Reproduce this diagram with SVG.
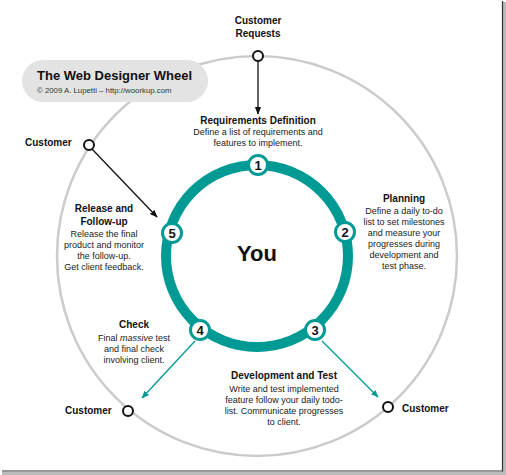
<svg xmlns="http://www.w3.org/2000/svg" width="506" height="475" viewBox="0 0 506 475">
<defs>
<style>
text{font-family:"Liberation Sans",Arial,sans-serif;fill:#111;}
.h{font-weight:bold;font-size:10px;text-anchor:middle;}
.b{font-size:9px;text-anchor:middle;fill:#222;}
.num{font-weight:bold;font-size:13px;text-anchor:middle;}
.step{fill:#fff;stroke:#009a95;stroke-width:3;}
.cust{fill:#fff;stroke:#111;stroke-width:2;}
.blk{stroke:#111;stroke-width:1.3;fill:none;}
.teal{stroke:#009a95;stroke-width:1.3;fill:none;}
</style>
<marker id="ab" viewBox="0 0 10 10" refX="9" refY="5" markerWidth="6" markerHeight="6" orient="auto"><path d="M0,1 L10,5 L0,9 z" fill="#111"/></marker>
<marker id="at" viewBox="0 0 10 10" refX="9" refY="5" markerWidth="6" markerHeight="6" orient="auto"><path d="M0,1 L10,5 L0,9 z" fill="#009a95"/></marker>
</defs>
<rect width="506" height="475" fill="#fff"/>
<!-- frame shadow -->
<g id="frame">
<rect x="503" y="2" width="3" height="472" fill="#bbb"/>
<rect x="2" y="472" width="504" height="3" fill="#bbb"/>
<line x1="502.5" y1="1" x2="502.5" y2="471.5" stroke="#333" stroke-width="1.2"/>
<line x1="2" y1="471" x2="503" y2="471" stroke="#333" stroke-width="1.2"/>
</g>
<g id="outer-ring"><circle cx="257" cy="256" r="200" fill="none" stroke="#cbcbcb" stroke-width="2.5"/></g>
<g id="title">
<rect x="22" y="60" width="186" height="42" rx="21" fill="#e3e3e3"/>
<text x="37" y="80" style="font-weight:bold;font-size:13px">The Web Designer Wheel</text>
<text x="37" y="93" style="font-size:7.8px;fill:#333">© 2009 A. Lupetti – http://woorkup.com</text>
</g>
<g id="connectors">
<line class="blk" x1="258" y1="61" x2="258" y2="114" marker-end="url(#ab)"/>
<line class="blk" x1="92" y1="149" x2="157" y2="217" marker-end="url(#ab)"/>
<line class="teal" x1="195" y1="341" x2="142" y2="398" marker-end="url(#at)"/>
<line class="teal" x1="322" y1="341" x2="378" y2="397" marker-end="url(#at)"/>
</g>
<g id="wheel"><circle cx="257" cy="256" r="91" fill="none" stroke="#009a95" stroke-width="10"/></g>
<g id="you"><text x="257" y="261" style="font-weight:bold;font-size:22px;text-anchor:middle">You</text></g>
<g id="step1"><circle class="step" cx="258" cy="165" r="9.5"/><text class="num" x="258" y="170">1</text></g>
<g id="step2"><circle class="step" cx="345" cy="232" r="9.5"/><text class="num" x="345" y="237">2</text></g>
<g id="step3"><circle class="step" cx="315" cy="330" r="9.5"/><text class="num" x="315" y="335">3</text></g>
<g id="step4"><circle class="step" cx="200" cy="330" r="9.5"/><text class="num" x="200" y="335">4</text></g>
<g id="step5"><circle class="step" cx="172" cy="233" r="9.5"/><text class="num" x="172" y="238">5</text></g>
<g id="customer-requests"><circle class="cust" cx="258" cy="56" r="5"/><text class="h" x="258" y="24">Customer</text><text class="h" x="258" y="37">Requests</text></g>
<g id="customer-left"><circle class="cust" cx="89" cy="145" r="5"/><text x="25" y="146" style="font-weight:bold;font-size:10px">Customer</text></g>
<g id="customer-bl"><circle class="cust" cx="128" cy="411" r="5"/><text x="65" y="414" style="font-weight:bold;font-size:10px">Customer</text></g>
<g id="customer-br"><circle class="cust" cx="388" cy="407" r="5"/><text x="402" y="412" style="font-weight:bold;font-size:10px">Customer</text></g>
<g id="req-text">
<text class="h" x="258" y="124">Requirements Definition</text>
<text class="b" x="258" y="135">Define a list of requirements and</text>
<text class="b" x="258" y="146">features to implement.</text>
</g>
<g id="planning-text">
<text class="h" x="404" y="202">Planning</text>
<text class="b" x="404" y="214">Define a daily to-do</text>
<text class="b" x="404" y="225">list to set milestones</text>
<text class="b" x="404" y="236">and measure your</text>
<text class="b" x="404" y="247">progresses during</text>
<text class="b" x="404" y="258">development and</text>
<text class="b" x="404" y="269">test phase.</text>
</g>
<g id="release-text">
<text class="h" x="104" y="212">Release and</text>
<text class="h" x="104" y="225">Follow-up</text>
<text class="b" x="104" y="237">Release the final</text>
<text class="b" x="104" y="248">product and monitor</text>
<text class="b" x="104" y="259">the follow-up.</text>
<text class="b" x="104" y="270">Get client feedback.</text>
</g>
<g id="check-text">
<text class="h" x="134" y="328">Check</text>
<text class="b" x="134" y="341">Final <tspan font-style="italic">massive</tspan> test</text>
<text class="b" x="134" y="352">and final check</text>
<text class="b" x="134" y="363">involving client.</text>
</g>
<g id="dev-text">
<text class="h" x="284" y="379">Development and Test</text>
<text class="b" x="284" y="392">Write and test implemented</text>
<text class="b" x="284" y="403">feature follow your daily todo-</text>
<text class="b" x="284" y="414">list. Communicate progresses</text>
<text class="b" x="284" y="425">to client.</text>
</g>
</svg>
